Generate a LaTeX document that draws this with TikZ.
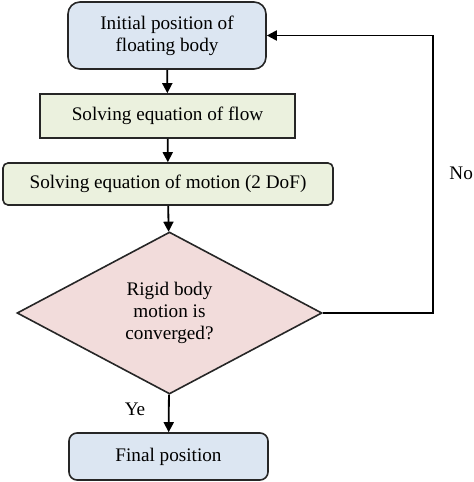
\documentclass[tikz,border=0pt]{standalone}
\usepackage{fontspec}
\setmainfont{Liberation Serif}
\usetikzlibrary{shapes.geometric,arrows.meta}
\definecolor{boxblue}{HTML}{DCE6F2}
\definecolor{boxgreen}{HTML}{EBF1DE}
\definecolor{boxpink}{HTML}{F2DCDB}
\begin{document}
\begin{tikzpicture}[x=0.5pt, y=-0.5pt,
    box/.style={draw=black!85, line width=0.8pt, align=center, inner sep=0pt,
        font=\fontsize{9.6}{11}\selectfont},
    arr/.style={-{Triangle[length=5pt,width=5pt]}, line width=0.9pt},
    lbl/.style={font=\fontsize{9.6}{11}\selectfont, inner sep=0pt}]
    \useasboundingbox (0,0) rectangle (474,482);

    % Cajas del proceso
    \node[box, fill=boxblue, rounded corners=6pt, minimum width=99pt, minimum height=33.5pt]
        (init) at (167,35.5) {Initial position of\\floating body};
    \node[box, fill=boxgreen, minimum width=127.5pt, minimum height=22pt]
        (flow) at (167.5,116) {Solving equation of flow};
    \node[box, fill=boxgreen, rounded corners=2.5pt, minimum width=165pt, minimum height=21pt]
        (motion) at (168,184) {Solving equation of motion (2 DoF)};
    \node[box, fill=boxpink, shape=diamond, minimum width=152.5pt, minimum height=81pt]
        (check) at (169.5,313) {Rigid body\\motion is\\converged?};
    \node[box, fill=boxblue, rounded corners=4pt, minimum width=99.5pt, minimum height=23.5pt]
        (final) at (168.5,456.5) {Final position};

    % Flechas
    \draw[arr] (init) -- (flow);
    \draw[arr] (flow) -- (motion);
    \draw[arr] (motion) -- (check);
    \draw[arr] (check) -- (final);

    % Lazo de vuelta
    \coordinate (loop) at (433,313);
    \draw[arr] (check.east) -- (loop) |- (init.east);

    % Etiquetas
    \node[lbl, anchor=west] (no) at (449,173) {No};
    \node[lbl] (yes) at (135,409) {Ye};
\end{tikzpicture}
\end{document}
